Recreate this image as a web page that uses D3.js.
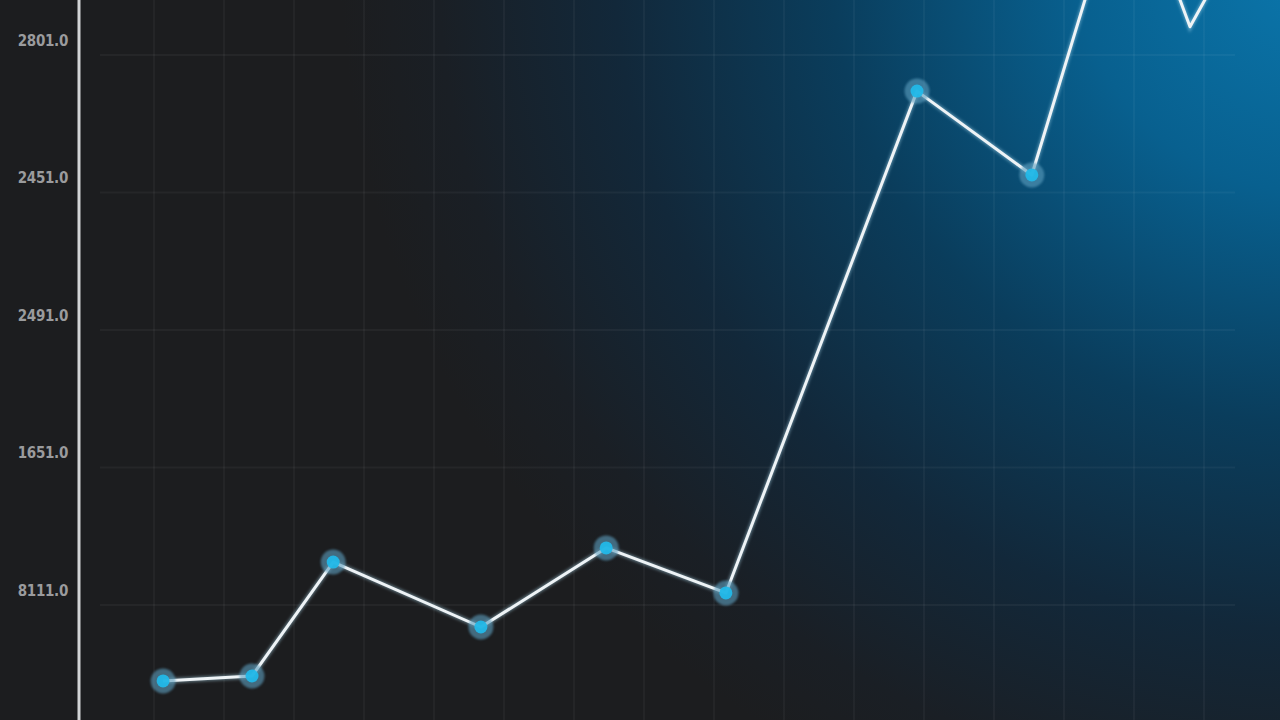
<!DOCTYPE html>
<html>
<head>
<meta charset="utf-8">
<script src="https://cdn.jsdelivr.net/npm/d3@7"></script>
<style>
  html, body { margin: 0; padding: 0; background: #1b1c1e; overflow: hidden; }
  svg { display: block; }
</style>
</head>
<body>
<svg id="chart" width="1280" height="720"></svg>
<script>
// ---- data ----
const xValues = [0.13, 1.4, 2.56, 4.67, 6.46, 8.17, 10.9, 12.54, 13.91, 14.8, 15.8];
const yValues = [358, 387, 1050, 672, 1132, 870, 3790, 3302, 5140, 4164, 4900];
const showMarker = [true, true, true, true, true, true, true, true, false, false, false];
const tickValues = [0, 800, 1600, 2400, 3200, 4000];
const tickLabels = ["0", "8111.0", "1651.0", "2491.0", "2451.0", "2801.0"];
const xGridValues = d3.range(0, 16);

const W = 1280, H = 720;
const svg = d3.select("#chart");

// background
const defs = svg.append("defs");
const rg = defs.append("radialGradient").attr("id", "bg")
  .attr("gradientUnits", "userSpaceOnUse")
  .attr("cx", 1320).attr("cy", -40).attr("r", 980)
  .attr("gradientTransform", "translate(1320,-40) scale(1,0.95) translate(-1320,40)");
[[0, "#0b78ae"], [0.25, "#08608f"], [0.5, "#0a3d5c"], [0.72, "#12283a"], [0.9, "#1a1f25"], [1, "#1c1d1f"]]
  .forEach(([o, c]) => rg.append("stop").attr("offset", o).attr("stop-color", c));
const glow = defs.append("filter").attr("id", "glow").attr("x", "-50%").attr("y", "-50%").attr("width", "200%").attr("height", "200%");
glow.append("feGaussianBlur").attr("stdDeviation", 1.5);
const halo = defs.append("filter").attr("id", "halo").attr("x", "-50%").attr("y", "-50%").attr("width", "200%").attr("height", "200%");
halo.append("feGaussianBlur").attr("stdDeviation", 1.2);

svg.append("rect").attr("width", W).attr("height", H).attr("fill", "#1c1d1f");
svg.append("rect").attr("width", W).attr("height", H).attr("fill", "url(#bg)");

// scales
const x = d3.scaleLinear().domain([0, 15]).range([154, 1204]);
const y = d3.scaleLinear().domain([0, 4000]).range([742.5, 55]);

// grid
svg.append("g").selectAll("line").data(xGridValues).join("line")
  .attr("x1", d => x(d)).attr("x2", d => x(d))
  .attr("y1", 0).attr("y2", H)
  .attr("stroke", "rgba(255,255,255,0.04)").attr("stroke-width", 2);
svg.append("g").selectAll("line").data(tickValues.slice(1)).join("line")
  .attr("x1", 100).attr("x2", 1235)
  .attr("y1", d => y(d)).attr("y2", d => y(d))
  .attr("stroke", "rgba(255,255,255,0.045)").attr("stroke-width", 2);

// y axis
const yAxis = d3.axisLeft(y).tickValues(tickValues)
  .tickFormat((d, i) => tickLabels[i]).tickSize(0).tickPadding(11);
const ag = svg.append("g").attr("transform", "translate(79,0)").call(yAxis);
ag.select(".domain").remove();
ag.append("line").attr("x1", 0).attr("x2", 0).attr("y1", 0).attr("y2", H)
  .attr("stroke", "#d2d4d6").attr("stroke-width", 3);
ag.selectAll("text")
  .attr("dy", "-0.65em")
  .attr("fill", "#9a9b9d")
  .style("font-family", "'Liberation Sans Narrow', 'DejaVu Sans Condensed', sans-serif")
  .style("font-weight", "bold")
  .style("font-size", "15px")
  .style("letter-spacing", "-0.3px");

// line
const pts = xValues.map((v, i) => ({ x: v, y: yValues[i], m: showMarker[i] }));
const line = d3.line().x(d => x(d.x)).y(d => y(d.y));
svg.append("path").datum(pts).attr("d", line)
  .attr("fill", "none").attr("stroke", "rgba(180,225,245,0.45)").attr("stroke-width", 5)
  .attr("filter", "url(#glow)");
svg.append("path").datum(pts).attr("d", line)
  .attr("fill", "none").attr("stroke", "#eef3f6").attr("stroke-width", 3)
  .attr("stroke-linejoin", "round");

// markers
const mk = svg.append("g").selectAll("g").data(pts.filter(d => d.m)).join("g")
  .attr("transform", d => `translate(${x(d.x)},${y(d.y)})`);
mk.append("circle").attr("r", 12.5).attr("fill", "#5d9fbf").attr("opacity", 0.6).attr("filter", "url(#halo)");
mk.append("circle").attr("r", 6.5).attr("fill", "#22b8e8").attr("opacity", 0.95);
</script>
</body>
</html>
